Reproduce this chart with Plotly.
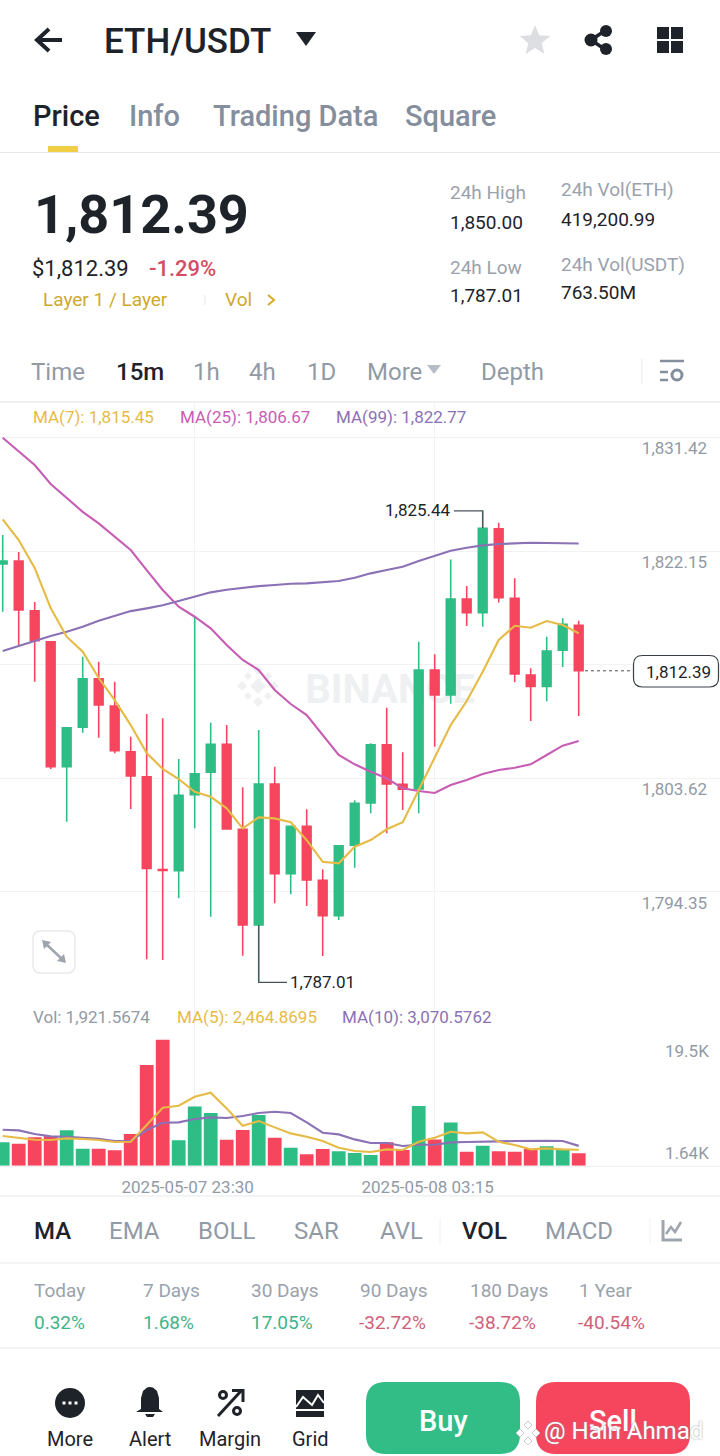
import math
import pandas as pd
import plotly.graph_objects as go
from plotly.subplots import make_subplots

W, H = 720, 1456
FONT = "Roboto"
DARK = "#1e2329"
GREY = "#929aa5"
LINE = "#eef0f2"
UP = "#2ebd85"
DOWN = "#f6465d"
YELLOW = "#e6bb45"
PINK = "#c75db4"
PURPLE = "#8b71b5"

# 15m candles
opens = [1821.10, 1821.34, 1817.29, 1814.76, 1804.56, 1807.78, 1811.74, 1809.51, 1805.79, 1803.75,
         1796.18, 1796.08, 1802.28, 1804.11, 1806.39, 1799.45, 1791.65, 1803.15, 1795.83, 1799.70,
         1795.29, 1792.41, 1798.17, 1801.60, 1806.36, 1803.13, 1802.74, 1812.45, 1810.41, 1818.24,
         1817.13, 1823.98, 1818.30, 1812.04, 1811.12, 1814.08, 1816.10]
highs = [1823.46, 1822.08, 1818.00, 1814.76, 1807.74, 1813.54, 1813.13, 1811.50, 1807.01, 1808.86,
         1808.51, 1805.19, 1816.80, 1808.15, 1807.96, 1802.88, 1807.56, 1804.56, 1799.72, 1801.09,
         1796.19, 1798.12, 1801.82, 1806.47, 1809.38, 1805.74, 1814.76, 1813.73, 1821.48, 1819.30,
         1825.44, 1824.47, 1819.93, 1812.59, 1815.17, 1816.67, 1816.47]
lows = [1817.21, 1814.33, 1811.50, 1804.38, 1800.08, 1807.34, 1806.93, 1805.66, 1801.11, 1788.85,
        1788.79, 1793.83, 1799.54, 1792.33, 1799.48, 1789.14, 1787.01, 1793.42, 1794.15, 1793.20,
        1789.12, 1792.06, 1796.32, 1800.76, 1799.13, 1801.03, 1800.76, 1806.19, 1809.70, 1816.04,
        1815.98, 1817.97, 1811.45, 1808.29, 1809.90, 1812.70, 1808.70]
closes = [1821.34, 1817.35, 1814.84, 1804.56, 1807.74, 1811.74, 1809.60, 1805.87, 1803.80, 1796.27,
          1796.09, 1802.23, 1803.99, 1806.39, 1799.48, 1791.65, 1803.15, 1795.83, 1799.70, 1795.32,
          1792.41, 1798.12, 1801.58, 1806.36, 1803.15, 1802.72, 1812.45, 1810.41, 1818.24, 1817.13,
          1824.01, 1818.35, 1812.13, 1811.12, 1814.00, 1816.18, 1812.39]

ma7 = [1824.75, 1823.06, 1820.77, 1817.51, 1815.17, 1813.94, 1811.80, 1810.00, 1807.96, 1805.68,
       1804.38, 1803.56, 1802.52, 1802.11, 1801.17, 1799.54, 1800.43, 1800.35, 1800.03, 1798.58,
       1796.81, 1796.68, 1798.04, 1798.58, 1799.46, 1800.03, 1802.66, 1805.25, 1807.96, 1809.92,
       1812.31, 1814.90, 1816.06, 1815.90, 1816.45, 1816.12, 1815.45]
ma25 = [1831.40, 1830.26, 1829.18, 1827.63, 1826.46, 1825.36, 1824.42, 1823.33, 1822.24, 1820.61,
        1818.98, 1817.62, 1816.80, 1815.85, 1814.49, 1813.27, 1812.45, 1810.82, 1809.68, 1808.78,
        1807.15, 1805.52, 1804.76, 1804.15, 1803.62, 1802.80, 1802.58, 1802.42, 1803.07, 1803.48,
        1803.97, 1804.29, 1804.48, 1804.76, 1805.52, 1806.28, 1806.67]
ma99 = [1814.00, 1814.41, 1814.84, 1815.22, 1815.58, 1815.98, 1816.47, 1816.86, 1817.26, 1817.48,
        1817.73, 1818.08, 1818.43, 1818.79, 1819.00, 1819.17, 1819.30, 1819.39, 1819.49, 1819.52,
        1819.61, 1819.71, 1819.98, 1820.34, 1820.61, 1820.88, 1821.34, 1821.78, 1822.18, 1822.43,
        1822.62, 1822.73, 1822.79, 1822.84, 1822.81, 1822.79, 1822.77]

volumes = [3612, 3406, 4386, 4541, 5470, 2632, 2632, 2374, 4902, 15583,
           19505, 3922, 9185, 8153, 4025, 5521, 7843, 4334, 2786, 1754,
           2580, 2219, 1961, 1651, 3612, 2425, 9236, 4076, 6708, 2167,
           3096, 2219, 2167, 2580, 2993, 2425, 1921.57]
vol_ma5 = [4592, 4334, 4025, 3973, 4231, 4128, 3973, 3664, 3715, 6295,
           8978, 9288, 10681, 11300, 8875, 6192, 6914, 5934, 5005, 4489,
           3818, 2786, 2270, 2116, 2528, 2425, 3715, 4334, 5263, 5005,
           5160, 3715, 3199, 2528, 2683, 2528, 2464.87]
vol_ma10 = [5573, 5470, 4902, 4541, 4489, 4334, 4180, 3818, 3818, 5521,
            6656, 6708, 7224, 7482, 7379, 7688, 8153, 8359, 8153, 6708,
            5108, 4850, 4076, 3509, 3509, 3044, 3251, 3251, 3612, 3664,
            3767, 3767, 3818, 3870, 3870, 3818, 3070.58]

price_ticks = [1831.42, 1822.15, 1812.89, 1803.62, 1794.35, 1785.08]
time_ticks = ["2025-05-07 23:30", "2025-05-08 03:15"]

dates = pd.date_range("2025-05-07 20:30", periods=len(closes), freq="15min")
# first candle centre sits 2.7px from the left edge, 16px between candles
x_left = dates[0] - pd.Timedelta(minutes=15 * 2.7 / 16)
x_right = dates[0] + pd.Timedelta(minutes=15 * (W - 2.7) / 16)
vol_colors = [UP if c >= o else DOWN for o, c in zip(opens, closes)]


def X(x):
    return x / W


def Y(y):
    return 1 - y / H


fig = make_subplots(rows=2, cols=1, shared_xaxes=True, vertical_spacing=0)

fig.add_trace(go.Candlestick(x=dates, open=opens, high=highs, low=lows, close=closes, whiskerwidth=0,
                             increasing=dict(line=dict(color=UP, width=1.6), fillcolor=UP),
                             decreasing=dict(line=dict(color=DOWN, width=1.6), fillcolor=DOWN)), row=1, col=1)
for vals, col in [(ma25, PINK), (ma99, PURPLE), (ma7, YELLOW)]:
    fig.add_trace(go.Scatter(x=dates, y=vals, mode="lines", line=dict(color=col, width=2.1)), row=1, col=1)

fig.add_trace(go.Bar(x=dates, y=volumes, marker=dict(color=vol_colors, line=dict(width=0))), row=2, col=1)
for vals, col in [(vol_ma10, PURPLE), (vol_ma5, YELLOW)]:
    fig.add_trace(go.Scatter(x=dates, y=vals, mode="lines", line=dict(color=col, width=2.1)), row=2, col=1)

annotations = []
shapes = []


def text(s, x, y, size=19, color=GREY, anchor="left", weight=400, **font_extra):
    annotations.append(dict(text=s, x=X(x), y=Y(y), xref="paper", yref="paper", showarrow=False,
                            xanchor=anchor, yanchor="middle", borderpad=0,
                            font=dict(family=FONT, size=size, color=color, weight=weight, **font_extra)))


def line(x0, y0, x1, y1, color=LINE, width=1.0, dash=None, layer="above"):
    shapes.append(dict(type="line", xref="paper", yref="paper", x0=X(x0), y0=Y(y0), x1=X(x1), y1=Y(y1),
                       layer=layer, line=dict(color=color, width=width, dash=dash)))


def rect(x0, y0, x1, y1, fill, layer="above"):
    shapes.append(dict(type="rect", xref="paper", yref="paper", x0=X(x0), y0=Y(y0), x1=X(x1), y1=Y(y1),
                       layer=layer, fillcolor=fill, line=dict(width=0)))


def circle(cx, cy, rx, fill=None, edge=None, width=0):
    shapes.append(dict(type="circle", xref="paper", yref="paper", x0=X(cx - rx), y0=Y(cy - rx), x1=X(cx + rx),
                       y1=Y(cy + rx), fillcolor=fill if fill else "rgba(0,0,0,0)",
                       line=dict(color=edge if edge else "rgba(0,0,0,0)", width=width)))


def poly(points, fill=None, edge=None, width=0, closed=True, layer="above"):
    d = "M " + " L ".join(f"{X(a):.5f},{Y(b):.5f}" for a, b in points) + (" Z" if closed else "")
    shapes.append(dict(type="path", path=d, xref="paper", yref="paper", layer=layer,
                       fillcolor=fill if fill else "rgba(0,0,0,0)",
                       line=dict(color=edge if edge else "rgba(0,0,0,0)", width=width)))


def rrect(x0, y0, x1, y1, r, fill=None, edge=None, width=0, layer="above"):
    def pt(a, b):
        return f"{X(a):.5f},{Y(b):.5f}"
    d = (f"M {pt(x0 + r, y0)} L {pt(x1 - r, y0)} Q {pt(x1, y0)} {pt(x1, y0 + r)} L {pt(x1, y1 - r)} "
         f"Q {pt(x1, y1)} {pt(x1 - r, y1)} L {pt(x0 + r, y1)} Q {pt(x0, y1)} {pt(x0, y1 - r)} "
         f"L {pt(x0, y0 + r)} Q {pt(x0, y0)} {pt(x0 + r, y0)} Z")
    shapes.append(dict(type="path", path=d, xref="paper", yref="paper", layer=layer,
                       fillcolor=fill if fill else "rgba(0,0,0,0)",
                       line=dict(color=edge if edge else "rgba(0,0,0,0)", width=width)))


# header
poly([(62, 40), (38, 40)], edge=DARK, width=4, closed=False)
poly([(49, 29), (37, 40), (49, 51)], edge=DARK, width=4, closed=False)
text("ETH/USDT", 103, 41, size=35, color=DARK, weight=500)
poly([(296, 32), (316, 32), (306, 46)], fill=DARK)
star = [(535 + (16 if i % 2 == 0 else 7) * math.sin(i * math.pi / 5),
         41 - (16 if i % 2 == 0 else 7) * math.cos(i * math.pi / 5)) for i in range(10)]
poly(star, fill="#dcdee2")
poly([(606, 30), (591, 40), (606, 50)], edge=DARK, width=3.5, closed=False)
circle(606, 31, 6, fill=DARK)
circle(591, 40, 6.5, fill=DARK)
circle(606, 49, 6, fill=DARK)
for gx in (657, 671):
    for gy in (27, 41):
        rect(gx, gy, gx + 12, gy + 12, DARK)

# tabs
text("Price", 32, 116, size=29, color=DARK, weight=500)
text("Info", 128, 116, size=29, color="#848e9c", weight=500)
text("Trading Data", 212, 116, size=29, color="#848e9c", weight=500)
text("Square", 404, 116, size=29, color="#848e9c", weight=500)
rect(48, 146, 78, 152, "#f0cf45")
line(0, 152.5, W, 152.5, "#e6e8ea", 1)

# price block
text("1,812.39", 33, 214, size=54, color=DARK, weight=700)
text("$1,812.39", 31, 268, size=22, color=DARK)
text("-1.29%", 148, 268, size=22, color="#d44d63", weight=500)
text("Layer 1 / Layer", 42, 300, size=19, color="#cfa92f")
line(205, 295, 205, 305, "#e6e8ea", 1)
text("Vol", 224, 300, size=19, color="#cfa92f")
poly([(268, 295), (274, 300), (268, 305)], edge="#d8ae2e", width=2.2, closed=False)
text("24h High", 449, 193, color="#9aa2ad")
text("1,850.00", 449, 222, color=DARK)
text("24h Low", 449, 267, color="#9aa2ad")
text("1,787.01", 449, 296, color=DARK)
text("24h Vol(ETH)", 560, 190, color="#9aa2ad")
text("419,200.99", 560, 219, color=DARK)
text("24h Vol(USDT)", 560, 264, color="#9aa2ad")
text("763.50M", 560, 293, color=DARK)

# interval row
text("Time", 30, 372, size=24)
text("15m", 115, 372, size=24, color=DARK, weight=500)
text("1h", 192, 372, size=24)
text("4h", 248, 372, size=24)
text("1D", 306, 372, size=24)
text("More", 366, 372, size=24)
poly([(427, 365), (441, 365), (434, 374)], fill="#b7bdc6")
text("Depth", 480, 372, size=24)
line(642, 359, 642, 384, "#e6e8ea", 1)
line(660, 361, 684, 361, "#848e9c", 2.5)
line(660, 372, 668, 372, "#848e9c", 2.5)
line(660, 380, 668, 380, "#848e9c", 2.5)
circle(677, 375, 5, edge="#848e9c", width=3)
line(0, 402, W, 402, LINE, 2)

# legends
text("MA(7): 1,815.45", 32, 417, size=17, color=YELLOW)
text("MA(25): 1,806.67", 179, 417, size=17, color=PINK)
text("MA(99): 1,822.77", 335, 417, size=17, color=PURPLE)
text("Vol: 1,921.5674", 32, 1017, size=17)
text("MA(5): 2,464.8695", 176, 1017, size=17, color=YELLOW)
text("MA(10): 3,070.5762", 341, 1017, size=17, color=PURPLE)

# high / low marks
text("1,825.44", 384, 510, size=17, color=DARK)
poly([(454, 510.8), (482.7, 510.8), (482.7, 528)], edge="#4a5058", width=1.2, closed=False)
text("1,787.01", 289, 982, size=17, color=DARK)
poly([(258.7, 925), (258.7, 982.3), (287, 982.3)], edge="#4a5058", width=1.2, closed=False)

# watermark behind the candles
for dx, dy, r in [(0, 0, 8), (-16, 0, 5), (16, 0, 5), (0, -16, 5), (0, 16, 5), (-10, -10, 4), (10, -10, 4),
                  (-10, 10, 4), (10, 10, 4)]:
    poly([(258 + dx - r, 686 + dy), (258 + dx, 686 + dy - r), (258 + dx + r, 686 + dy), (258 + dx, 686 + dy + r)],
         fill="#eff0f2", layer="below")
shapes.append(dict(type="rect", xref="paper", yref="paper", x0=X(290), y0=Y(664), x1=X(490), y1=Y(708),
                   layer="below", line=dict(width=0),
                   label=dict(text="<b>BINANCE</b>", textposition="middle center",
                              font=dict(family=FONT, size=40, color="#eff0f2"))))

# expand button
rrect(33, 931, 75, 973, 8, fill="white", edge="#e8eaed", width=1.5)
poly([(42, 940), (51, 942), (44, 949)], fill="#9ea5ae")
poly([(66, 963), (57, 961), (64, 954)], fill="#9ea5ae")
line(46, 944, 62, 959, "#9ea5ae", 2.5)

# last price tag
line(585, 670.8, 633, 670.8, "#4a5058", 1, dash="3px,3px")
rrect(633.5, 655.5, 718.5, 687, 9, fill="white", edge="#3a4048", width=1.2)
text("1,812.39", 712, 672, size=17, color=DARK, anchor="right")

# volume axis labels sit off their levels, so they are placed by hand
text("19.5K", 710, 1051, size=17, anchor="right")
text("1.64K", 710, 1153, size=17, anchor="right")

line(0, 1196, W, 1196, LINE, 1.5)

# indicator row
text("MA", 33, 1231, size=24, color=DARK, weight=500)
text("EMA", 108, 1231, size=24)
text("BOLL", 197, 1231, size=24)
text("SAR", 293, 1231, size=24)
text("AVL", 379, 1231, size=24)
line(440, 1218, 440, 1244, "#eef0f2", 1)
text("VOL", 461, 1231, size=24, color=DARK, weight=500)
text("MACD", 544, 1231, size=24)
line(650, 1218, 650, 1244, "#eef0f2", 1)
poly([(663, 1220), (663, 1240), (682, 1240)], edge="#9ea5ae", width=3, closed=False)
poly([(666, 1234), (671, 1227), (675, 1232), (681, 1222)], edge="#9ea5ae", width=2.5, closed=False)
line(0, 1263, W, 1263, LINE, 1.5)

# returns
period_labels = ["Today", "7 Days", "30 Days", "90 Days", "180 Days", "1 Year"]
period_values = ["0.32%", "1.68%", "17.05%", "-32.72%", "-38.72%", "-40.54%"]
period_x = [33, 142, 250, 359, 469, 578]
for lab, val, px in zip(period_labels, period_values, period_x):
    text(lab, px, 1290, size=19, color="#9aa2ad")
    text(val, px - (1 if val[0] == "-" else 0), 1322, size=19, color="#d0607a" if val[0] == "-" else "#3fb48a")
line(0, 1348, W, 1348, LINE, 1.5)

# bottom bar
circle(70, 1403, 15, fill=DARK)
for dx in (-6, 0, 6):
    rect(70 + dx - 1.5, 1401.5, 70 + dx + 1.5, 1404.5, "white")
text("More", 70, 1439, size=20, color=DARK, anchor="center")
poly([(141, 1409), (141, 1398), (143, 1391), (147, 1387.5), (150, 1387), (153, 1387.5), (157, 1391), (159, 1398),
      (159, 1409), (163, 1412), (136, 1412)], fill=DARK)
poly([(145, 1414), (155, 1414), (153, 1417), (147, 1417)], fill=DARK)
text("Alert", 150, 1439, size=20, color=DARK, anchor="center")
circle(223, 1395, 3.5, edge=DARK, width=3)
circle(237, 1411, 3.5, edge=DARK, width=3)
line(218, 1416, 241, 1391, DARK, 3)
poly([(232, 1390.5), (243, 1390.5), (243, 1402)], edge=DARK, width=3, closed=False)
text("Margin", 230, 1439, size=20, color=DARK, anchor="center")
rect(296, 1390, 324, 1409, DARK)
poly([(296, 1407), (303, 1397), (312, 1405), (318, 1395), (324, 1403)], edge="white", width=2, closed=False)
rect(296, 1411, 324, 1417, DARK)
text("Grid", 310, 1439, size=20, color=DARK, anchor="center")
rrect(366, 1382, 520, 1454, 20, fill="#31bd85")
text("Buy", 443, 1421, size=29, color="white", anchor="center", weight=500)
rrect(536, 1382, 690, 1454, 20, fill="#f6465d")
text("Sell", 613, 1421, size=29, color="white", anchor="center", weight=500)

# repost watermark
for dx, dy in [(-8, 0), (8, 0), (0, -8), (0, 8)]:
    poly([(528 + dx - 4, 1433 + dy), (528 + dx, 1433 + dy - 4), (528 + dx + 4, 1433 + dy), (528 + dx, 1433 + dy + 4)],
         fill="white", edge="#c9cdd2", width=1)
text("@ Hain Ahmad", 543, 1431, size=24, color="white", shadow="0 0 2px #8a8f96")

fig.update_layout(width=W, height=H, margin=dict(l=0, r=0, t=0, b=0), paper_bgcolor="white", plot_bgcolor="white",
                  showlegend=False, bargap=0.14, boxgap=0.22, annotations=annotations, shapes=shapes)
fig.update_xaxes(range=[x_left, x_right], tickvals=time_ticks, showgrid=True, gridcolor="#f1f2f4", gridwidth=1,
                 zeroline=False, showline=False, ticks="", rangeslider_visible=False, showticklabels=False)
fig.update_xaxes(showticklabels=True, ticktext=time_ticks, tickfont=dict(family=FONT, size=17, color=GREY),
                 ticklabelshift=-7, ticklabelstandoff=6, showline=True, linecolor="#eceef0", linewidth=1,
                 row=2, col=1)
fig.update_yaxes(domain=[Y(1006.5), Y(402)], range=[1785.00, 1834.32], side="right", tickvals=price_ticks,
                 tickformat=",.2f", ticklabelposition="inside", ticklabelshift=11, ticklabelstandoff=10,
                 tickfont=dict(family=FONT, size=17, color=GREY), gridcolor="#f1f2f4", gridwidth=1,
                 zeroline=False, showline=False, ticks="", row=1, col=1)
fig.update_yaxes(domain=[Y(1165.7), Y(1006.5)], range=[0, 24650], showgrid=False, zeroline=False,
                 showticklabels=False, ticks="", row=2, col=1)

fig.write_html("out.html", config=dict(displayModeBar=False),
               post_script="document.body.style.margin='0';document.body.style.overflow='hidden';")
